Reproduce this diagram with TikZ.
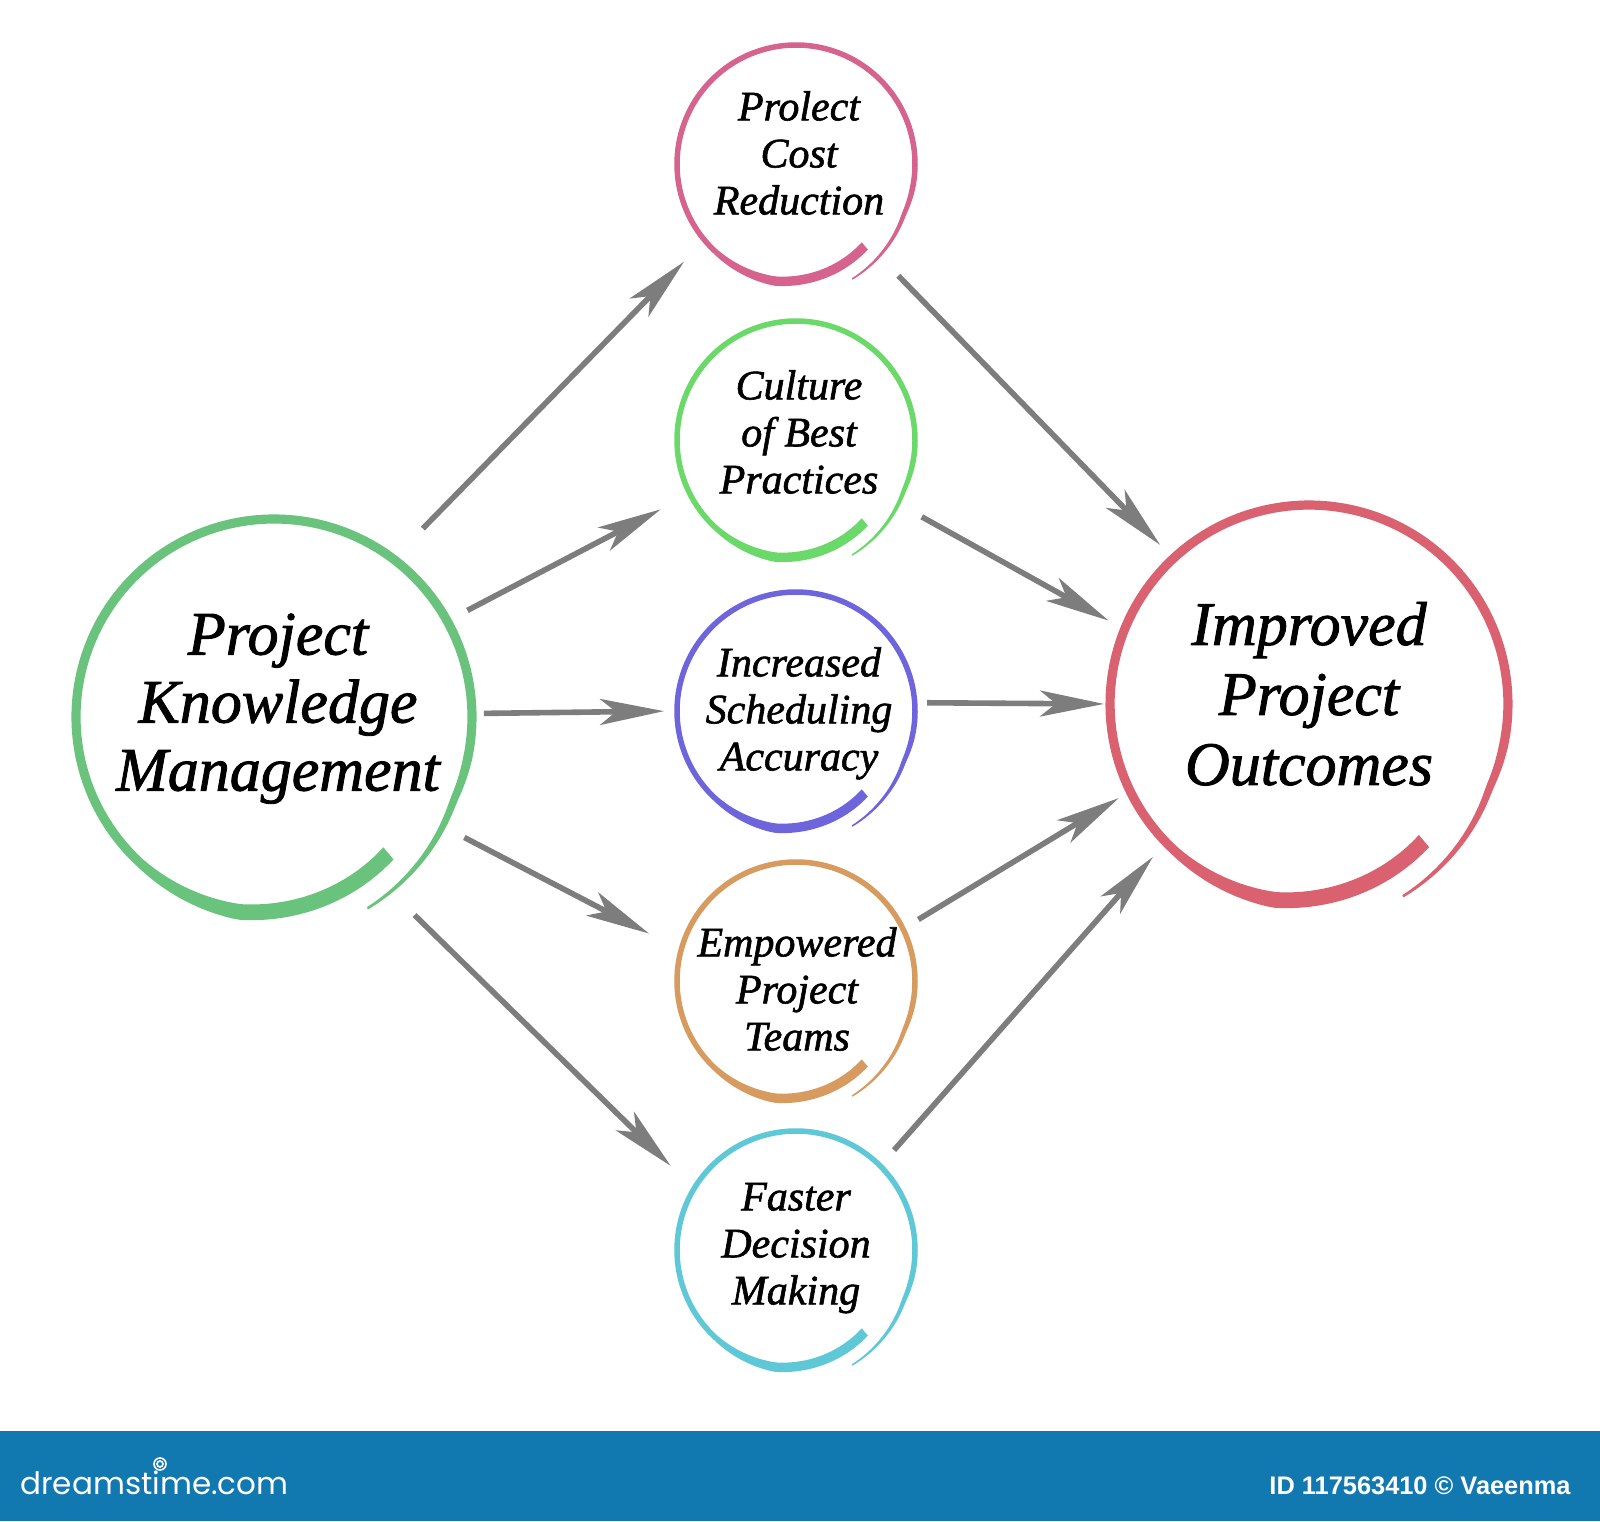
\documentclass[tikz,border=0pt]{standalone}
\usepackage{fontspec}
\setmainfont{Liberation Serif}
\newfontfamily\lblfont{Liberation Serif}[ItalicFeatures={FakeBold=1.4}]
\newfontfamily\brandfont{Poppins}
\newfontfamily\creditfont{Liberation Sans}
\usetikzlibrary{arrows.meta,calc}
\definecolor{pinkc}{RGB}{214,99,142}
\definecolor{greenc}{RGB}{106,217,106}
\definecolor{purplec}{RGB}{110,100,220}
\definecolor{orangec}{RGB}{215,155,95}
\definecolor{cyanc}{RGB}{95,200,215}
\definecolor{bigleftc}{RGB}{105,195,125}
\definecolor{bigrightc}{RGB}{218,98,112}
\definecolor{arrowgray}{RGB}{125,125,125}
\definecolor{bannerblue}{RGB}{17,120,176}
\tikzset{
  declare function={
    bc(\t)=119-12*max(0,min(1,(\t+100)/50))+9*max(0,min(1,(-385-\t)/39));
    bw(\t)=5.5+4*max(0,min(1,(\t+132)/32))-4*max(0,min(1,(-372-\t)/52));
  },
  pics/brushring/.style n args={2}{code={
    \fill[#2] plot[samples=160, domain=-50:-424] (\x:{#1*(bc(\x)+bw(\x)/2)})
      -- plot[samples=160, domain=-424:-50] (\x:{#1*(bc(\x)-bw(\x)/2)}) -- cycle;
  }},
  ring/.style={circle, inner sep=0pt, outer sep=0pt, minimum size=#1},
  smalltxt/.style={align=center, inner sep=0pt, font={\lblfont\itshape\fontsize{21pt}{23.5pt}\selectfont}},
  lefttxt/.style={align=center, inner sep=0pt, font={\lblfont\itshape\fontsize{31pt}{34pt}\selectfont}},
  righttxt/.style={align=center, inner sep=0pt, font={\lblfont\itshape\fontsize{31pt}{35pt}\selectfont}},
  arr/.style={draw=arrowgray, line width=2.8pt, -{Stealth[length=32pt, width=13pt, inset=8pt]}}
}
\begin{document}
\begin{tikzpicture}[x=0.5pt,y=0.5pt]
\useasboundingbox (0,0) rectangle (1600,1521);
\fill[white] (0,0) rectangle (1600,1521);
% circle nodes
\node[ring=198pt] (L) at (274,804) {};
\node[ring=199pt] (R) at (1309,817) {};
\node[ring=119pt] (P1) at (796,1357) {};
\node[ring=119pt] (P2) at (796,1081) {};
\node[ring=119pt] (P3) at (796,810) {};
\node[ring=119pt] (P4) at (796,540) {};
\node[ring=119pt] (P5) at (796,271) {};
% brush rings
\pic at (L) {brushring={1.664}{bigleftc}};
\pic at (R) {brushring={1.672}{bigrightc}};
\pic at (P1) {brushring={1}{pinkc}};
\pic at (P2) {brushring={1}{greenc}};
\pic at (P3) {brushring={1}{purplec}};
\pic at (P4) {brushring={1}{orangec}};
\pic at (P5) {brushring={1}{cyanc}};
% texts
\node[smalltxt] (t1) at ($(P1)+(3,6)$) {\strut Prolect\\Cost\\Reduction\strut};
\node[smalltxt] (t2) at ($(P2)+(3,3)$) {\strut Culture\\of Best\\Practices\strut};
\node[smalltxt] (t3) at ($(P3)+(3,-3)$) {\strut Increased\\Scheduling\\Accuracy\strut};
\node[smalltxt] (t4) at ($(P4)+(1,-13)$) {\strut Empowered\\Project\\Teams\strut};
\node[smalltxt] (t5) at ($(P5)+(0,2)$) {\strut Faster\\Decision\\Making\strut};
\node[lefttxt] (tL) at ($(L)+(4,8)$) {\strut Project\\Knowledge\\Management\strut};
\node[righttxt] (tR) at ($(R)+(0,3)$) {\strut Improved\\Project\\Outcomes\strut};
% arrows from left
\draw[arr, shorten <=21.2pt, shorten >=14.9pt] (L.53.4) -- (P1.220.9);
\draw[arr, shorten <=11.4pt, shorten >=16.5pt] (L.29.2) -- (P2.207.5);
\draw[arr, shorten <=6pt, shorten >=6.5pt] (L.1.1) -- (P3.180);
\draw[arr, shorten <=13.7pt, shorten >=18pt] (L.-33.2) -- (P4.165.2);
\draw[arr, shorten <=22.9pt, shorten >=16.3pt] (L.-57.5) -- (P5.149.6);
% arrows to right
\draw[arr, shorten <=16.3pt, shorten >=9.5pt] (P1.-48.1) -- (R.133.5);
\draw[arr, shorten <=14.2pt, shorten >=9.1pt] (P2.-32.6) -- (R.158.4);
\draw[arr, shorten <=6.2pt, shorten >=3pt] (P3.4.4) -- (R.180.3);
\draw[arr, shorten <=9pt, shorten >=6.7pt] (P4.26.3) -- (R.206.3);
\draw[arr, shorten <=10.5pt, shorten >=9.8pt] (P5.45.1) -- (R.224.5);
% banner
\fill[bannerblue] (0,0) rectangle (1600,90);
\node[anchor=base west, inner sep=0pt, text=white, font={\brandfont\fontsize{15.5pt}{18pt}\selectfont}] (brand) at (20,27) {dreamstime.com};
\draw[white, line width=0.8pt] (160,57) circle[radius=6] (160,57) circle[radius=3];
\node[anchor=base east, inner sep=0pt, text=white, font={\creditfont\bfseries\fontsize{12.7pt}{14pt}\selectfont}] (credit) at (1571,27) {ID 117563410 © Vaeenma};
\end{tikzpicture}
\end{document}
